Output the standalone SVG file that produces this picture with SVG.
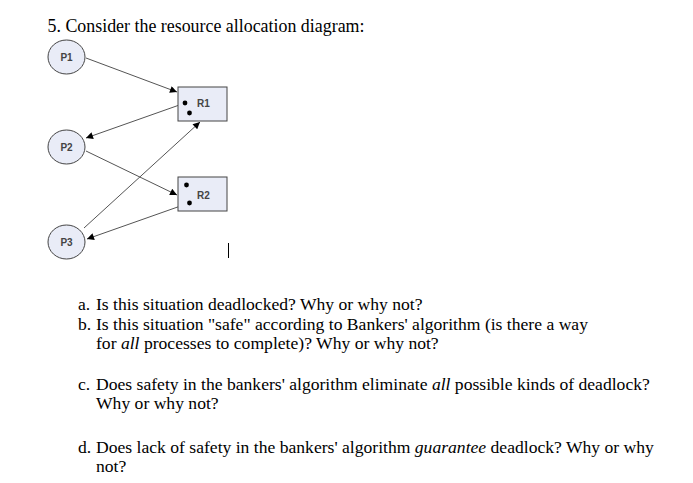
<svg xmlns="http://www.w3.org/2000/svg" width="693" height="483" viewBox="0 0 693 483">
<style>
.node{fill:#e9ecf7;stroke:#444;stroke-width:1}
.lbl{font-family:"Liberation Sans",Arial,sans-serif;font-size:10px;font-weight:bold;fill:#444}
.edge{stroke:#555;stroke-width:1;fill:none;marker-end:url(#ah)}
.txt{font-family:"Liberation Serif","Times New Roman",serif;font-size:17.6px;fill:#000}
.dot{fill:#000}
</style>
<defs>
<marker id="ah" viewBox="0 0 10 10" refX="10" refY="5" markerWidth="9" markerHeight="7" markerUnits="userSpaceOnUse" orient="auto">
<path d="M0,0 L10,5 L0,10 z" fill="#000"/>
</marker>
</defs>
<rect width="693" height="483" fill="#fff"/>
<text class="txt" x="47.5" y="32" style="font-size:17.9px">5. Consider the resource allocation diagram:</text>
<g id="connectors">
<line class="edge" x1="86" y1="58" x2="177" y2="92"/>
<line class="edge" x1="185" y1="103" x2="86" y2="138"/>
<line class="edge" x1="86" y1="151" x2="177" y2="195"/>
<line class="edge" x1="189" y1="203" x2="87" y2="239"/>
<line class="edge" x1="84" y1="228" x2="200" y2="122"/>
</g>
<g id="P1"><ellipse class="node" cx="66.5" cy="57" rx="18.5" ry="17"/><text class="lbl" x="66.5" y="60.5" text-anchor="middle">P1</text></g>
<g id="P2"><ellipse class="node" cx="66.5" cy="147" rx="18.5" ry="17"/><text class="lbl" x="66.5" y="150.5" text-anchor="middle">P2</text></g>
<g id="P3"><ellipse class="node" cx="66.5" cy="242" rx="18.5" ry="17"/><text class="lbl" x="66.5" y="245.5" text-anchor="middle">P3</text></g>
<g id="R1"><rect class="node" x="178" y="87" width="49" height="34"/><circle class="dot" cx="185" cy="103" r="2.4"/><circle class="dot" cx="189.5" cy="113" r="2.4"/><text class="lbl" x="197" y="107">R1</text></g>
<g id="R2"><rect class="node" x="178" y="177" width="49" height="34"/><circle class="dot" cx="186.5" cy="185" r="2.4"/><circle class="dot" cx="189.5" cy="203" r="2.4"/><text class="lbl" x="197" y="199">R2</text></g>
<line x1="228.5" y1="243" x2="228.5" y2="258" stroke="#000" stroke-width="1"/>
<text class="txt" x="78" y="310">a.</text>
<text class="txt" x="96" y="310">Is this situation deadlocked? Why or why not?</text>
<text class="txt" x="78" y="330">b.</text>
<text class="txt" x="96" y="330">Is this situation "safe" according to Bankers' algorithm (is there a way</text>
<text class="txt" x="96" y="349">for <tspan font-style="italic">all</tspan> processes to complete)? Why or why not?</text>
<text class="txt" x="78" y="390">c.</text>
<text class="txt" x="96" y="390">Does safety in the bankers' algorithm eliminate <tspan font-style="italic">all</tspan> possible kinds of deadlock?</text>
<text class="txt" x="96" y="409">Why or why not?</text>
<text class="txt" x="78" y="453">d.</text>
<text class="txt" x="96" y="453">Does lack of safety in the bankers' algorithm <tspan font-style="italic">guarantee</tspan> deadlock? Why or why</text>
<text class="txt" x="96" y="472">not?</text>
</svg>
